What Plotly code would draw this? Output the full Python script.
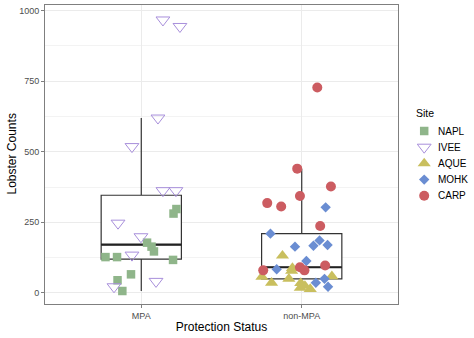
import numpy as np
import plotly.graph_objects as go

# ---- data ----
categories = ["MPA", "non-MPA"]
sites = ["NAPL", "IVEE", "AQUE", "MOHK", "CARP"]
site_status = {"NAPL": "MPA", "IVEE": "MPA", "AQUE": "non-MPA", "MOHK": "non-MPA", "CARP": "non-MPA"}

napl_counts = [297, 281, 178, 164, 147, 127, 127, 117, 66, 45, 7]
napl_jitter = [0.219, 0.201, 0.036, 0.064, 0.079, -0.223, -0.151, 0.198, -0.064, -0.148, -0.118]

ivee_counts = [966, 943, 619, 518, 362, 362, 247, 199, 134, 41, 22]
ivee_jitter = [0.135, 0.241, 0.104, -0.058, 0.135, 0.216, -0.145, -0.002, -0.058, 0.092, -0.170]

aque_counts = [132, 88, 78, 57, 36, 50, 35, 18, 14, 59, 25]
aque_jitter = [-0.120, -0.058, -0.063, -0.248, -0.188, -0.080, -0.006, -0.009, 0.053, 0.188, 0.020]

mohk_counts = [303, 210, 186, 170, 167, 164, 113, 84, 50, 36, 22]
mohk_jitter = [0.149, -0.195, 0.111, 0.161, 0.073, -0.042, 0.029, -0.156, 0.142, 0.088, 0.164]

carp_counts = [727, 440, 377, 343, 318, 306, 237, 97, 91, 80, 80]
carp_jitter = [0.097, -0.028, 0.182, -0.011, -0.215, -0.128, 0.115, 0.146, -0.011, -0.240, 0.017]

y_ticks = [0, 250, 500, 750, 1000]

counts = {"NAPL": napl_counts, "IVEE": ivee_counts, "AQUE": aque_counts,
          "MOHK": mohk_counts, "CARP": carp_counts}
jitters = {"NAPL": napl_jitter, "IVEE": ivee_jitter, "AQUE": aque_jitter,
           "MOHK": mohk_jitter, "CARP": carp_jitter}

styles = {
    "NAPL": dict(symbol="square", size=8.5, color="#8fb58a", line=dict(width=0)),
    "IVEE": dict(symbol="triangle-down-open", size=12, color="#a88fdb", line=dict(width=1, color="#a88fdb")),
    "AQUE": dict(symbol="triangle-up", size=11.5, color="#c9bf5e", line=dict(width=0)),
    "MOHK": dict(symbol="diamond", size=8, color="#6a8dd2", line=dict(width=0)),
    "CARP": dict(symbol="circle", size=10, color="#cc5c61", line=dict(width=0)),
}

# geometry (pixels)
W, H = 474, 338
ML, MR, MT, MB = 45, 0, 5, 34
plot_w = W - ML - MR
panel_right_px = 398
main_dom = (panel_right_px - ML) / plot_w
leg_left_px = 414
leg_dom_x = [(leg_left_px - ML) / plot_w, 1.0]
plot_h = H - MT - MB
def py(px):
    return (H - MB - px) / plot_h
leg_top_px, leg_bot_px = 100, 210
row0_px, row_step = 131, 16.2

fig = go.Figure()

# boxplots (ggplot-style type-7 quantiles, 1.5 IQR whiskers)
for i, cat in enumerate(categories):
    vals = np.concatenate([counts[s] for s in sites if site_status[s] == cat])
    q1, med, q3 = np.percentile(vals, [25, 50, 75])
    iqr = q3 - q1
    lo = vals[vals >= q1 - 1.5 * iqr].min()
    hi = vals[vals <= q3 + 1.5 * iqr].max()
    xc = i + 1
    fig.add_trace(go.Box(
        x=[xc], q1=[q1], median=[med], q3=[q3], lowerfence=[lo], upperfence=[hi],
        width=0.5, whiskerwidth=0, fillcolor="white",
        line=dict(color="#333333", width=1.2), boxpoints=False, showlegend=False,
        hoverinfo="skip"))
    fig.add_trace(go.Scatter(
        x=[xc - 0.25, xc + 0.25], y=[med, med], mode="lines",
        line=dict(color="#222222", width=2.2), showlegend=False, hoverinfo="skip"))

for s in sites:
    base = categories.index(site_status[s]) + 1
    fig.add_trace(go.Scatter(
        x=[base + j for j in jitters[s]], y=counts[s], mode="markers",
        name=s, marker=styles[s], showlegend=False))

# custom legend (compact ggplot-like spacing) on a helper axis
for k, s in enumerate(sites):
    fig.add_trace(go.Scatter(
        x=[0.17], y=[k], mode="markers", marker=styles[s], xaxis="x2", yaxis="y2",
        showlegend=False, hoverinfo="skip"))
    fig.add_annotation(x=0.36, y=k, xref="x2", yref="y2", text=s, showarrow=False,
                       xanchor="left", yanchor="middle", font=dict(size=10, color="black"))
fig.add_annotation(x=0.0, y=(113 - row0_px) / row_step, xref="x2", yref="y2", text="Site",
                   showarrow=False, xanchor="left", yanchor="middle",
                   font=dict(size=10.5, color="black"))

# y-axis title
fig.add_annotation(x=-(ML - 11) / plot_w, y=0.5, xref="paper", yref="paper",
                   text="Lobster Counts", textangle=-90, showarrow=False,
                   xanchor="center", yanchor="middle", font=dict(size=12, color="black"))

fig.update_layout(
    width=W, height=H,
    margin=dict(l=ML, r=MR, t=MT, b=MB),
    paper_bgcolor="white", plot_bgcolor="white",
    font=dict(family="Liberation Sans, Arial, sans-serif", color="black"),
    showlegend=False,
    xaxis=dict(
        domain=[0, main_dom],
        range=[0.4, 2.6], tickvals=[1, 2], ticktext=categories,
        showgrid=True, gridcolor="#ebebeb", gridwidth=1,
        showline=True, linecolor="#7f7f7f", linewidth=1, mirror=True,
        ticks="outside", ticklen=3, tickcolor="#7f7f7f",
        tickfont=dict(size=9, color="#4d4d4d"), zeroline=False,
        title=dict(text="Protection Status", font=dict(size=12), standoff=2)),
    yaxis=dict(
        range=[-39, 1019], tickvals=y_ticks,
        showgrid=True, gridcolor="#ebebeb", gridwidth=1,
        minor=dict(tickvals=[125, 375, 625, 875], showgrid=True, gridcolor="#f3f3f3", gridwidth=0.6),
        showline=True, linecolor="#7f7f7f", linewidth=1, mirror=True,
        ticks="outside", ticklen=3, tickcolor="#7f7f7f",
        tickfont=dict(size=9, color="#4d4d4d"), zeroline=False),
    xaxis2=dict(domain=leg_dom_x, range=[0, 1], visible=False, anchor="y2", fixedrange=True),
    yaxis2=dict(domain=[py(leg_bot_px), py(leg_top_px)],
                range=[(leg_bot_px - row0_px) / row_step, (leg_top_px - row0_px) / row_step],
                visible=False, anchor="x2", fixedrange=True),
)

fig.write_html("out.html")
